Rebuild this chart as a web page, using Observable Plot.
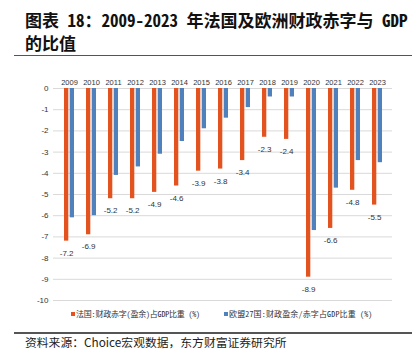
<!DOCTYPE html>
<html>
<head>
<meta charset="utf-8">
<script src="https://cdn.jsdelivr.net/npm/d3@7"></script>
<script src="https://cdn.jsdelivr.net/npm/@observablehq/plot@0.6"></script>
<style>
  html, body { margin: 0; padding: 0; background: #fff; }
  #wrap { position: relative; width: 412px; height: 357px; overflow: hidden; background: #fff; }
  .tl { position: absolute; left: 25px; font-family: "Noto Sans CJK SC", sans-serif; font-weight: 700; font-size: 17px; line-height: 20px; color: #111; white-space: nowrap; }
  .tl .lat { font-feature-settings: "hwid" 1; }
  .rule { position: absolute; left: 14px; width: 398px; height: 1.5px; background: #555; }
  #pct { position: absolute; left: 38px; top: 66px; font-family: "Liberation Sans", sans-serif; font-size: 6px; color: #333; }
  #chart { position: absolute; left: 0; top: 60px; }
  .leg { position: absolute; top: 308px; font-family: "Noto Sans CJK SC", sans-serif; font-size: 8px; line-height: 11px; color: #333; white-space: nowrap; display: flex; align-items: center; font-feature-settings: "hwid" 1; }
  .sw { display: inline-block; width: 4px; height: 4px; margin-right: 1px; }
  #source { position: absolute; left: 25px; top: 333px; font-family: "Noto Sans CJK SC", sans-serif; font-size: 11.8px; line-height: 17px; color: #222; white-space: nowrap; }
</style>
</head>
<body>
<div id="wrap">
  <div class="tl" style="top:10px">图表<span class="lat"> 18</span>：<span class="lat">2009-2023 </span>年法国及欧洲财政赤字与<span class="lat"> GDP</span></div>
  <div class="tl" style="top:33px">的比值</div>
  <div class="rule" style="top:54.5px"></div>
  <div id="pct">%</div>
  <div id="chart"></div>
  <div class="leg" id="leg1" style="left:71px; letter-spacing:-0.2px"></div>
  <div class="leg" id="leg2" style="left:224px; letter-spacing:0.15px"></div>
  <div class="rule" style="top:332px"></div>
  <div id="source">资料来源：Choice宏观数据，东方财富证券研究所</div>
</div>
<script>
const years = ["2009","2010","2011","2012","2013","2014","2015","2016","2017","2018","2019","2020","2021","2022","2023"];
const franceValues = [-7.2, -6.9, -5.2, -5.2, -4.9, -4.6, -3.9, -3.8, -3.4, -2.3, -2.4, -8.9, -6.6, -4.8, -5.5];
const euValues = [-6.1, -6.0, -4.1, -3.7, -3.1, -2.5, -1.9, -1.4, -0.9, -0.4, -0.4, -6.7, -4.7, -3.4, -3.5];
const seriesNames = ["法国:财政赤字(盈余)占GDP比重 (%)", "欧盟27国:财政盈余/赤字占GDP比重 (%)"];
const seriesColors = ["#E2531F", "#4F81BD"];
const yTicks = [0, -1, -2, -3, -4, -5, -6, -7, -8, -9, -10];

const frRows = years.map((y, i) => ({year: y, value: franceValues[i]}));
const euRows = years.map((y, i) => ({year: y, value: euValues[i]}));

const chart = Plot.plot({
  width: 412,
  height: 246,
  marginLeft: 53,
  marginRight: 20,
  marginTop: 28,
  marginBottom: 6,
  style: {fontFamily: "Liberation Sans, Arial, sans-serif", fontSize: "8px", color: "#333", background: "#fff"},
  x: {domain: years, paddingInner: 0.55, paddingOuter: 0.275, axis: null},
  y: {domain: [-10, 0], axis: null},
  marks: [
    Plot.ruleY(yTicks, {stroke: "#d9d9d9", strokeWidth: 1}),
    Plot.axisY({ticks: yTicks, tickSize: 0, tickPadding: 5, tickFormat: d => String(d), fontSize: 8, fill: "#333", label: null}),
    Plot.axisX({anchor: "top", tickSize: 0, tickPadding: 4, fontSize: 7.5, fill: "#333", label: null}),
    Plot.barY(frRows, {x: "year", y: "value", fill: seriesColors[0], insetRight: 5.7}),
    Plot.barY(euRows, {x: "year", y: "value", fill: seriesColors[1], insetLeft: 5.7}),
    Plot.text(frRows, {x: "year", y: "value", text: d => d.value.toFixed(1), dx: -2.85, dy: 12, fill: "#333", fontSize: 8})
  ]
});
document.getElementById("chart").appendChild(chart);

["leg1", "leg2"].forEach((id, i) => {
  const el = document.getElementById(id);
  const sw = document.createElement("span");
  sw.className = "sw";
  sw.style.background = seriesColors[i];
  el.appendChild(sw);
  el.appendChild(document.createTextNode(seriesNames[i]));
});
</script>
</body>
</html>
